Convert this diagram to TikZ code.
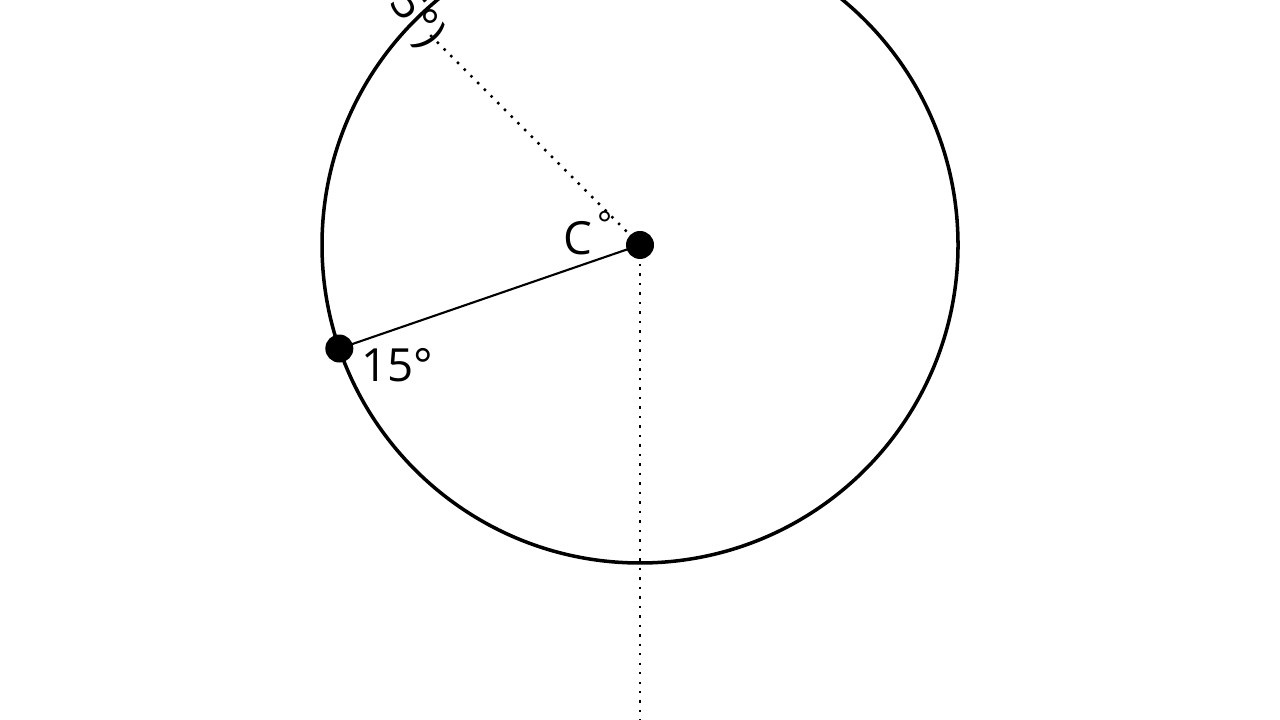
\documentclass[tikz,border=0pt]{standalone}
\usepackage{fontspec}
\setmainfont{Open Sans}
\usetikzlibrary{calc}
\begin{document}
\begin{tikzpicture}[
        every node/.style={inner sep=1pt,font=\fontsize{13}{15}\selectfont},
        pt/.style={circle,fill=black,inner sep=0pt,minimum size=0.28cm}]
    \useasboundingbox (0,0) rectangle (12.8,7.2);
    \clip (0,0) rectangle (12.8,7.2);

    \node[pt] (c) at (6.4,4.75) {};
    \node[pt] (p) at ($(6.4,4.75)+(199:3.18)$) {};
    \coordinate (t) at ($(6.4,4.75)+(135:2.97)$);
    \coordinate (b) at (6.4,0);

    \draw[line width=1pt] (6.4,4.75) circle (3.18);
    \draw[line width=0.6pt] (c.center) -- (p.center);
    \draw[dotted,line width=0.7pt] (c.center) -- (t);
    \draw[dotted,line width=0.7pt] (c.center) -- (b);

    \node (C) at (5.78,4.82) {C};
    \node[font=\fontsize{10}{11}\selectfont,rotate=-45] (dg) at (6.0,4.98) {°};
    \node (ang) at (3.97,3.55) {15°};
    \node[rotate=-55] (top) at (4.05,7.17) {(35°)};
\end{tikzpicture}
\end{document}
